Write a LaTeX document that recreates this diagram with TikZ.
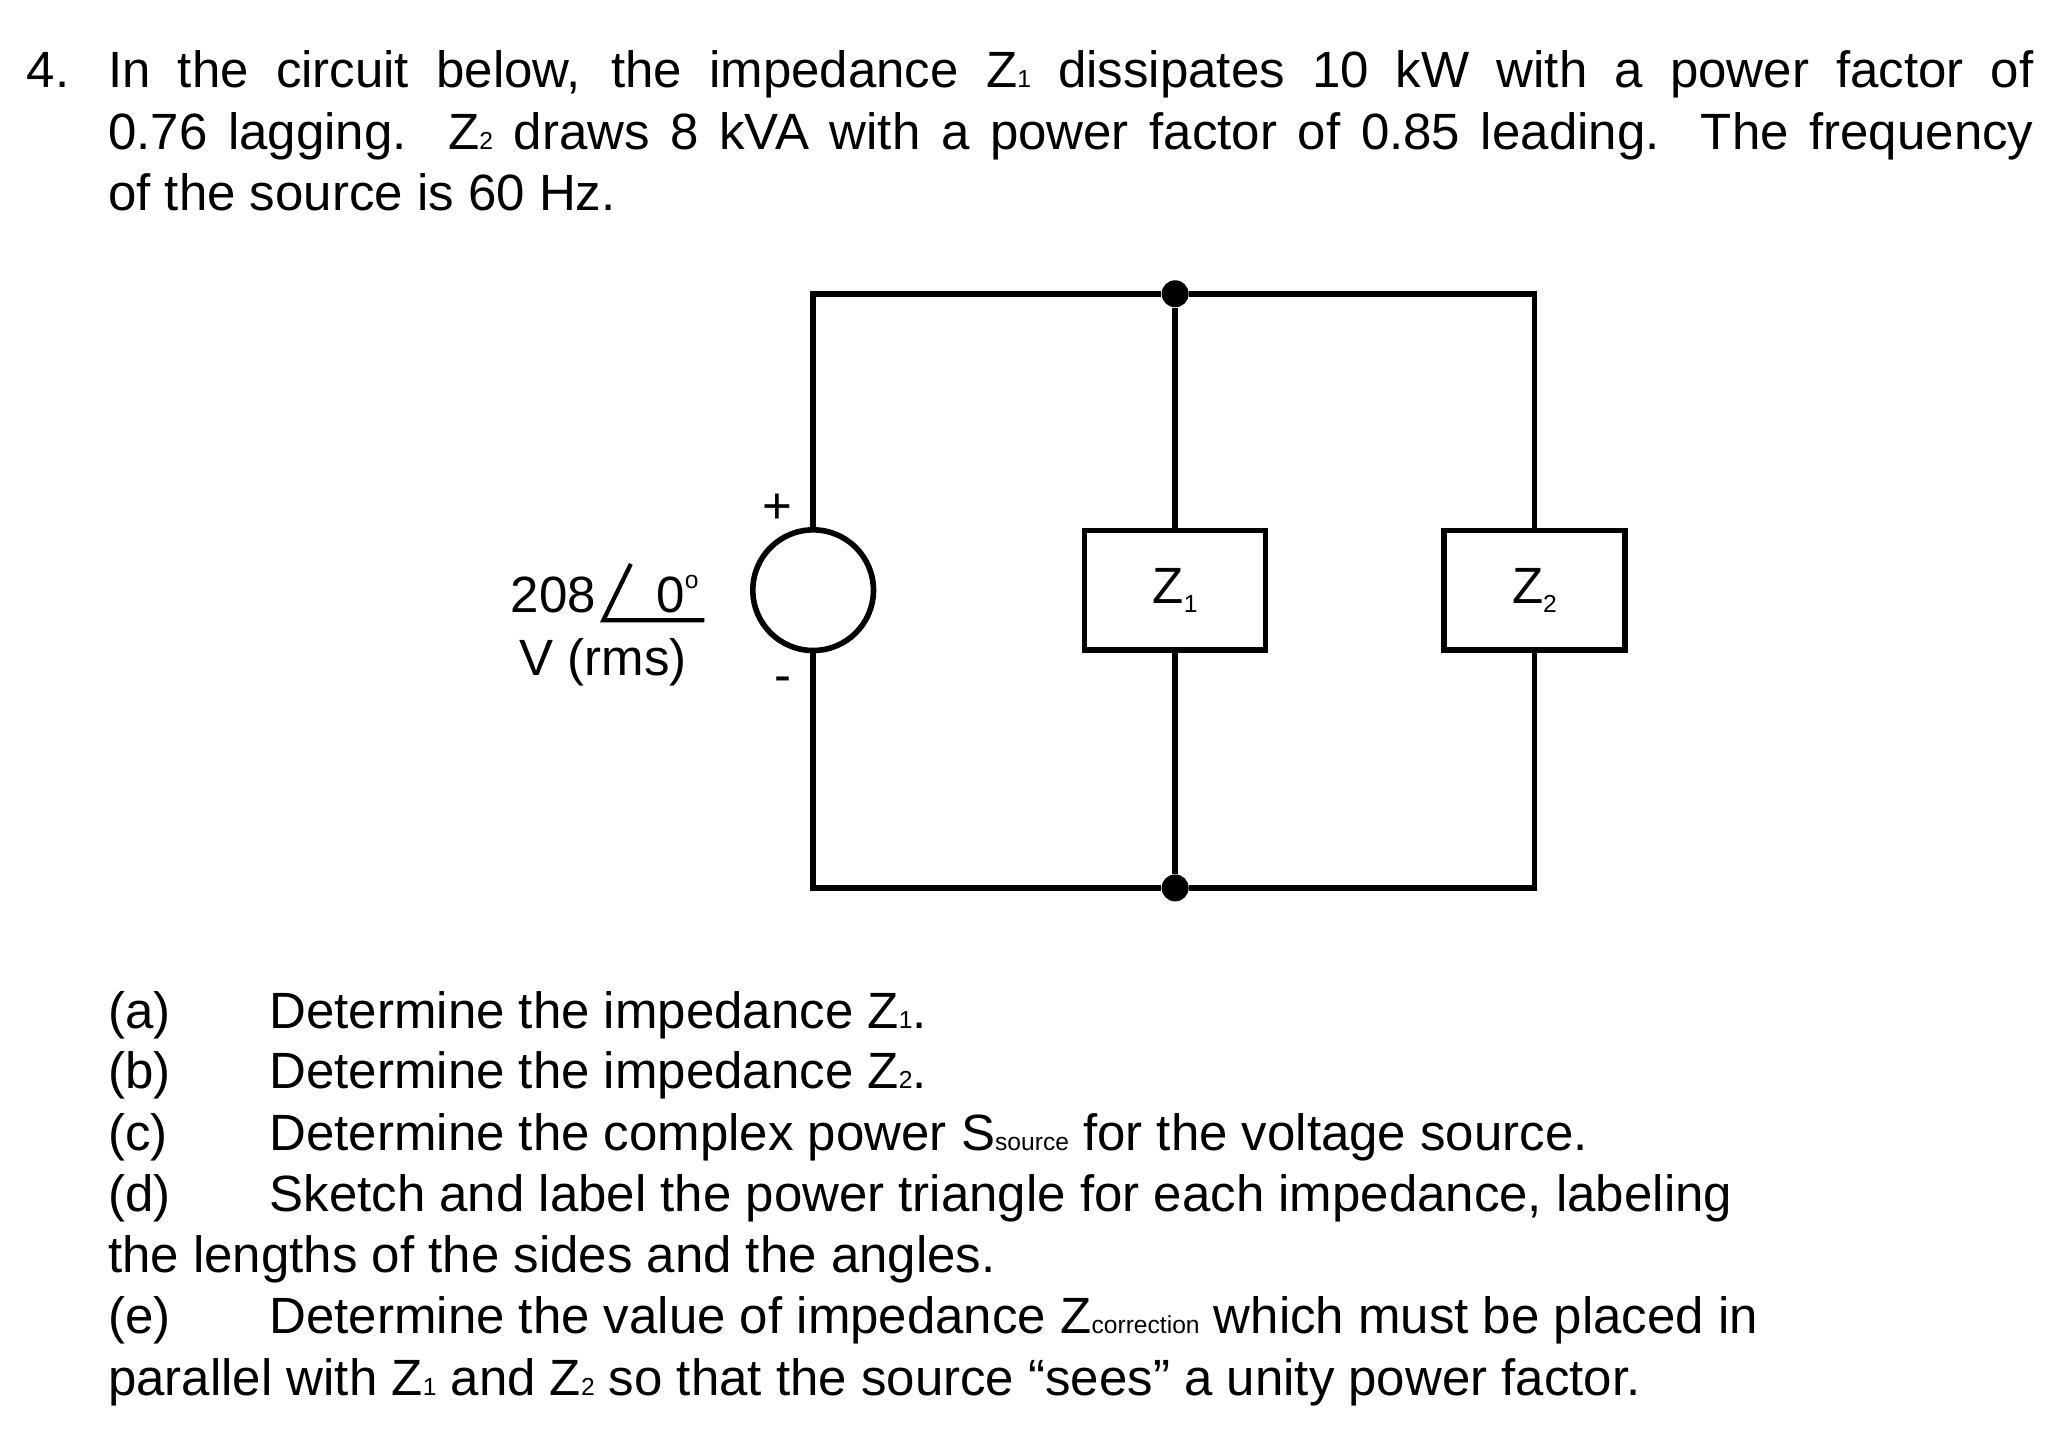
\documentclass[tikz,border=0pt]{standalone}
\usepackage{fontspec}
\setmainfont{Liberation Sans}
\begin{document}
\begin{tikzpicture}
      [%%%%%%%%%%%%%%%%%%%%%%%%%%%%%%
      x=0.01311cm, y=-0.01311cm,
      wire/.style={draw=black, line width=1.6pt},
      imp/.style={rectangle, draw=black, line width=1.6pt, minimum width=138*0.01311cm, minimum height=91*0.01311cm, inner sep=0pt},
      txt/.style={inner sep=0pt, anchor=base west, font=\fontsize{14.5}{17.5}\selectfont},
      dot/.style={circle, fill=black, inner sep=0pt, minimum size=0.27cm},
      ]%%%%%%%%%%%%%%%%%%%%%%%%%%%%%%
      \useasboundingbox (0,0) rectangle (1560,1099);

      % problem text
      \node[txt] (num) at (20,67) {4.};
      \node[txt, text width=1468*0.01311cm, align=justify] (head) at (82,67)
        {In the circuit below, the impedance Z{\scriptsize 1} dissipates 10 kW with a power factor of\linebreak
         0.76 lagging.\ \ Z{\scriptsize 2} draws 8 kVA with a power factor of 0.85 leading.\ \ The frequency\linebreak
         of the source is 60 Hz.};

      % circuit
      \coordinate (tl) at (620,224);
      \coordinate (tr) at (1170,224);
      \coordinate (bl) at (620,677);
      \coordinate (br) at (1170,677);
      \node[dot] (ntop) at (896,224) {};
      \node[dot] (nbot) at (896,677) {};
      \node[circle, draw=black, line width=1.6pt, minimum size=92*0.01311cm, inner sep=0pt] (src) at (620,450) {};
      \node[imp] (z1) at (896,450) {\fontsize{14.5}{17.5}\selectfont Z\raisebox{-0.35ex}{\scriptsize 1}};
      \node[imp] (z2) at (1170,450) {\fontsize{14.5}{17.5}\selectfont Z\raisebox{-0.35ex}{\scriptsize 2}};

      \draw[wire] (src.north) -- (tl) -- (ntop) -- (tr) -- (z2.north);
      \draw[wire] (src.south) -- (bl) -- (nbot) -- (br) -- (z2.south);
      \draw[wire] (ntop) -- (z1.north);
      \draw[wire] (nbot) -- (z1.south);

      \node[txt, anchor=center] (plus) at (593,388) {+};
      \node[txt, anchor=center] (minus) at (597,522) {-};
      \node[txt, anchor=base east] (mag) at (455,467) {208};
      \node[txt] (ang) at (500,467) {0\raisebox{0.9ex}{\scriptsize o}};
      \coordinate (a0) at (460,473);
      \coordinate (a1) at (481,430);
      \coordinate (a2) at (537,473);
      \draw[line width=1.2pt] (a1) -- (a0) -- (a2);
      \node[txt, anchor=base] (unit) at (460,515) {V (rms)};

      % questions
      \foreach \lab/\yy/\body in {
        (a)/784/{Determine the impedance Z{\scriptsize 1}.},
        (b)/830/{Determine the impedance Z{\scriptsize 2}.},
        (c)/877/{Determine the complex power S{\scriptsize source} for the voltage source.},
        (d)/924/{Sketch and label the power triangle for each impedance, labeling},
        (e)/1017/{Determine the value of impedance Z{\scriptsize correction} which must be placed in}}{
        \node[txt] at (82,\yy) {\lab};
        \node[txt] at (205,\yy) {\body};
      }
      \node[txt] (dcont) at (82,970) {the lengths of the sides and the angles.};
      \node[txt] (econt) at (82,1064) {parallel with Z{\scriptsize 1} and Z{\scriptsize 2} so that the source “sees” a unity power factor.};
\end{tikzpicture}
\end{document}
